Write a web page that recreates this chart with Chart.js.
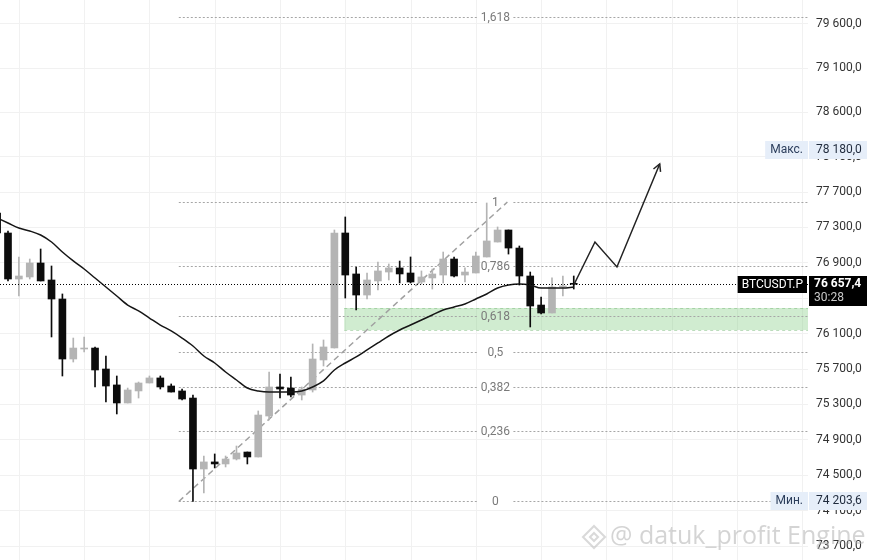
<!DOCTYPE html>
<html>
<head>
<meta charset="utf-8">
<script src="https://cdn.jsdelivr.net/npm/chart.js@4.4.1/dist/chart.umd.min.js"></script>
<style>
html,body{margin:0;padding:0;background:#fff;}
#wrap{width:870px;height:560px;position:relative;}
</style>
</head>
<body>
<div id="wrap"><canvas id="c" width="870" height="560"></canvas></div>
<script>
// ---- data (BTCUSDT.P candles) ----
const opens  = [77463,77237,76717,76740,76898,76706,76491,75813,75926,75937,75700,75520,75316,75452,75542,75599,75508,75452,75372,74570,74650,74627,74683,74762,74706,75169,75497,75485,75406,75463,75802,75937,77237,76774,76536,76695,76796,76842,76785,76683,76729,76762,76943,76762,76785,76966,77135,77271,77067,76751,76423,76333,76627,76665];
const highs  = [77500,77260,76966,76943,77056,76864,76548,76050,76062,75949,75847,75621,75485,75553,75621,75621,75531,75474,75406,74717,74740,74717,74830,74762,75226,75666,75644,75610,75497,75983,76028,77271,77418,76853,76785,76909,76887,76920,76966,76808,76830,77022,76966,76842,77022,77576,77305,77271,77090,76796,76514,76729,76751,76751];
const lows   = [77200,76695,76525,76717,76695,76062,75621,75779,75892,75497,75327,75192,75316,75372,75542,75474,75440,75350,74203.6,74299,74582,74593,74672,74627,74706,75124,75372,75384,75350,75440,75734,75937,76502,76367,76491,76593,76706,76672,76672,76661,76604,76672,76740,76683,76785,76966,77135,76999,76649,76175,76322,76333,76525,76604];
const closes = [77237,76717,76751,76898,76695,76491,75813,75937,75937,75689,75508,75316,75463,75542,75599,75497,75440,75361,74570,74650,74627,74683,74751,74706,75180,75497,75474,75406,75474,75813,75949,77237,76762,76536,76706,76808,76842,76774,76683,76740,76774,76943,76751,76796,76977,77147,77271,77067,76751,76412,76333,76627,76638,76657.4];
const maValues = [77406,77350,77293,77260,77214,77135,77022,76921,76830,76728,76627,76525,76423,76356,76276,76197,76130,76050,75960,75847,75768,75666,75576,75485,75452,75440,75440,75440,75452,75497,75565,75689,75768,75836,75915,75994,76073,76141,76197,76254,76310,76367,76401,76435,76491,76548,76615,76649,76661,76649,76615,76615,76615,76627];
const arrowX = [53, 54.95, 56.97, 60.9];
const arrowY = [76649, 77135, 76853, 78017];
const fibLevels = [0, 0.236, 0.382, 0.5, 0.618, 0.786, 1, 1.618];
const fibLabels = ['0', '0,236', '0,382', '0,5', '0,618', '0,786', '1', '1,618'];
const fibLow = 74203.6, fibHigh = 77587;
const zoneTop = 76389, zoneBottom = 76140;
const lastPrice = 76657.4, maxPrice = 78180.0, minPrice = 74203.6;
const tickValues = [73700,74100,74500,74900,75300,75700,76100,76500,76900,77300,77700,78100,78600,79100,79600];
const symbol = 'BTCUSDT.P', timer = '30:28', maxLabel = 'Макс.', minLabel = 'Мин.';
const watermark = '@ datuk_profit Engine';

// ---- layout constants ----
const fibX1 = 16.7, fibX2 = 46.9, zoneX1 = 31.9, fibLabelX = 45.8;
const vGrid = [2,8,14,20,26,32,38,44,50,56,62,68,74];
const UP = '#b4b4b4', DOWN = '#0c0c0c';
const FONT = 'Roboto, "Noto Sans", sans-serif';

function fmt(v, d){
  const s = v.toFixed(d).split('.');
  return s[0].replace(/\B(?=(\d{3})+(?!\d))/g, ' ') + ',' + s[1];
}

const idx = opens.map((_, i) => i);
const wickData = idx.map(i => ({x: i, y: [lows[i], highs[i]]}));
const bodyData = idx.map(i => ({x: i, y: [Math.min(opens[i], closes[i]), Math.max(opens[i], closes[i])]}));
const colors = idx.map(i => closes[i] >= opens[i] ? UP : DOWN);
const maData = idx.map(i => ({x: i, y: maValues[i]}));
const arrowData = arrowX.map((x, i) => ({x, y: arrowY[i]}));

const overlay = {
  id: 'overlay',
  beforeDatasetsDraw(chart){
    const {ctx, chartArea: a, scales: {x, y}} = chart;
    ctx.save();
    ctx.beginPath(); ctx.rect(a.left, a.top, a.right - a.left, a.bottom - a.top); ctx.clip();
    // vertical grid
    ctx.strokeStyle = '#f1f1f1'; ctx.lineWidth = 1;
    vGrid.forEach(g => { const px = Math.round(x.getPixelForValue(g)) + 0.5;
      ctx.beginPath(); ctx.moveTo(px, a.top); ctx.lineTo(px, a.bottom); ctx.stroke(); });
    // green zone
    const zx = x.getPixelForValue(zoneX1), zt = y.getPixelForValue(zoneTop), zb = y.getPixelForValue(zoneBottom);
    ctx.fillStyle = 'rgba(120,200,120,0.35)';
    ctx.fillRect(zx, zt, a.right - zx, zb - zt);
    ctx.setLineDash([3,3]); ctx.strokeStyle = 'rgba(110,180,110,0.45)';
    [zt, zb].forEach(yy => { ctx.beginPath(); ctx.moveTo(zx, Math.round(yy)+0.5); ctx.lineTo(a.right, Math.round(yy)+0.5); ctx.stroke(); });
    // fib lines
    const fx1 = x.getPixelForValue(fibX1), lx = x.getPixelForValue(fibLabelX);
    ctx.font = '12px ' + FONT;
    ctx.textAlign = 'center'; ctx.textBaseline = 'middle';
    fibLevels.forEach((lv, k) => {
      const val = fibLow + lv * (fibHigh - fibLow);
      const yy = Math.round(y.getPixelForValue(val)) + 0.5;
      ctx.setLineDash([2,2]); ctx.strokeStyle = '#a6a6a6'; ctx.lineWidth = 1;
      ctx.beginPath(); ctx.moveTo(fx1, yy); ctx.lineTo(lx - 18, yy);
      ctx.moveTo(lx + 18, yy); ctx.lineTo(a.right, yy); ctx.stroke();
      ctx.fillStyle = '#7a7a7a';
      ctx.fillText(fibLabels[k], lx, yy);
    });
    // diagonal
    ctx.setLineDash([6,4]); ctx.strokeStyle = '#a0a0a0'; ctx.lineWidth = 1.5;
    ctx.beginPath();
    ctx.moveTo(x.getPixelForValue(fibX1), y.getPixelForValue(fibLow));
    ctx.lineTo(x.getPixelForValue(fibX2), y.getPixelForValue(fibHigh));
    ctx.stroke();
    ctx.restore();
  },
  afterDatasetsDraw(chart){
    const {ctx, chartArea: a, scales: {x, y}} = chart;
    ctx.save();
    // arrow head
    const n = arrowX.length;
    const x1 = x.getPixelForValue(arrowX[n-2]), y1 = y.getPixelForValue(arrowY[n-2]);
    const x2 = x.getPixelForValue(arrowX[n-1]), y2 = y.getPixelForValue(arrowY[n-1]);
    const ang = Math.atan2(y2 - y1, x2 - x1), L = 8;
    ctx.strokeStyle = '#222'; ctx.lineWidth = 1.5;
    ctx.beginPath();
    ctx.moveTo(x2 - L*Math.cos(ang - 0.5), y2 - L*Math.sin(ang - 0.5));
    ctx.lineTo(x2, y2);
    ctx.lineTo(x2 - L*Math.cos(ang + 0.5), y2 - L*Math.sin(ang + 0.5));
    ctx.stroke();
    // last price dotted line
    const py = Math.round(y.getPixelForValue(lastPrice)) + 0.5;
    ctx.setLineDash([1,2]); ctx.strokeStyle = '#000'; ctx.lineWidth = 1;
    ctx.beginPath(); ctx.moveTo(a.left, py); ctx.lineTo(a.right, py); ctx.stroke();
    ctx.restore();
  },
  afterDraw(chart){
    const {ctx, chartArea: a, scales: {y}} = chart;
    ctx.save();
    ctx.textBaseline = 'middle';
    const R = a.right, W = 58;
    // max / min labels
    [[maxPrice, maxLabel], [minPrice, minLabel]].forEach(([v, t]) => {
      const yy = Math.round(y.getPixelForValue(v));
      ctx.font = '12px ' + FONT;
      const tw = ctx.measureText(t).width + 10;
      ctx.fillStyle = '#e6eef9';
      ctx.fillRect(R - tw, yy - 9, tw, 18);
      ctx.fillRect(R + 1, yy - 9, W, 18);
      ctx.fillStyle = '#2c3e5c'; ctx.textAlign = 'left';
      ctx.fillText(t, R - tw + 5, yy);
      ctx.fillStyle = '#1f2a3c';
      ctx.fillText(fmt(v, 1), R + 8, yy);
    });
    // last price labels
    const py = Math.round(y.getPixelForValue(lastPrice));
    ctx.font = '12px ' + FONT;
    const sw = ctx.measureText(symbol).width + 8;
    ctx.fillStyle = '#000';
    ctx.fillRect(R - sw - 1, py - 8, sw, 17);
    ctx.fillRect(R + 1, py - 8, W, 30);
    ctx.fillStyle = '#fff'; ctx.textAlign = 'left';
    ctx.fillText(symbol, R - sw + 3, py + 1);
    ctx.font = 'bold 12px ' + FONT;
    ctx.fillText(fmt(lastPrice, 1), R + 6, py);
    ctx.font = '12px ' + FONT;
    ctx.fillStyle = '#c9c9c9';
    ctx.fillText(timer, R + 6, py + 14);
    // watermark
    ctx.globalAlpha = 0.55;
    ctx.strokeStyle = '#b9b9b9'; ctx.lineWidth = 2;
    const cx = 594, cy = 537;
    ctx.beginPath();
    ctx.moveTo(cx, cy - 11); ctx.lineTo(cx + 11, cy); ctx.lineTo(cx, cy + 11); ctx.lineTo(cx - 11, cy); ctx.closePath();
    ctx.stroke();
    ctx.beginPath();
    ctx.moveTo(cx, cy - 4); ctx.lineTo(cx + 4, cy); ctx.lineTo(cx, cy + 4); ctx.lineTo(cx - 4, cy); ctx.closePath();
    ctx.stroke();
    ctx.fillStyle = '#b0b0b0';
    ctx.font = '25px "Open Sans", "Noto Sans", sans-serif';
    ctx.textAlign = 'left';
    ctx.fillText(watermark, 610, cy);
    ctx.restore();
  }
};

new Chart(document.getElementById('c'), {
  data: {
    datasets: [
      {type: 'line', data: arrowData, borderColor: '#222', borderWidth: 1.5, pointRadius: 0, tension: 0, order: 0},
      {type: 'line', data: maData, borderColor: '#161616', borderWidth: 1.5, pointRadius: 0, tension: 0.3, cubicInterpolationMode: 'monotone', order: 1},
      {type: 'bar', data: bodyData, backgroundColor: colors, barThickness: 7, minBarLength: 1, grouped: false, borderWidth: 0, order: 2},
      {type: 'bar', data: wickData, backgroundColor: colors, barThickness: 1, minBarLength: 1, grouped: false, borderWidth: 0, order: 3}
    ]
  },
  options: {
    responsive: false,
    animation: false,
    devicePixelRatio: 1,
    layout: {padding: 0},
    plugins: {legend: {display: false}, tooltip: {enabled: false}},
    scales: {
      x: {type: 'linear', min: 0.265, max: 74.53, offset: false, display: false},
      y: {
        position: 'right',
        min: 73541.8, max: 79869.8,
        afterBuildTicks: s => { s.ticks = tickValues.map(v => ({value: v})); },
        afterFit: s => { s.width = 62; s.paddingTop = 0; s.paddingBottom = 0; },
        border: {display: false},
        grid: {color: '#f1f1f1', drawTicks: false},
        ticks: {
          padding: 8,
          color: '#333',
          font: {family: FONT, size: 12},
          callback: v => fmt(v, 1)
        }
      }
    }
  },
  plugins: [overlay]
});
</script>
</body>
</html>
